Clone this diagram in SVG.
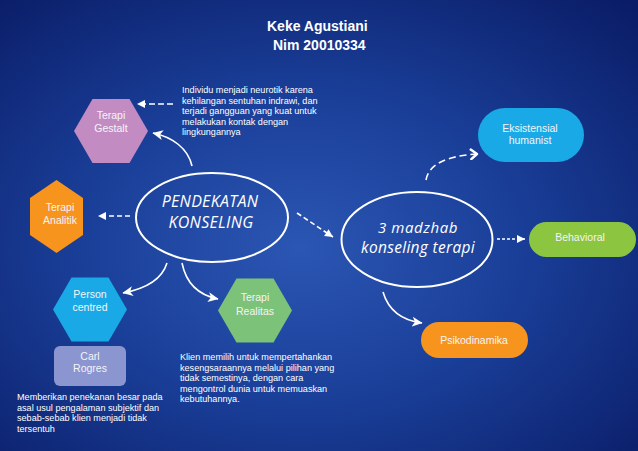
<svg xmlns="http://www.w3.org/2000/svg" width="638" height="451" viewBox="0 0 638 451">
<defs>
<radialGradient id="bg" cx="0.47" cy="0.55" r="0.75">
<stop offset="0" stop-color="#2b56b3"/>
<stop offset="0.45" stop-color="#1a3f99"/>
<stop offset="1" stop-color="#0a1c66"/>
</radialGradient>
<marker id="tri" markerUnits="userSpaceOnUse" markerWidth="10" markerHeight="10" viewBox="0 0 10 10" refX="9" refY="5" orient="auto">
<path d="M1,1 L9,5 L1,9 Z" fill="#fff"/>
</marker>
<marker id="stealth" markerUnits="userSpaceOnUse" markerWidth="11" markerHeight="11" viewBox="0 0 10 10" refX="9" refY="5" orient="auto">
<path d="M0,0.5 L9.5,5 L0,9.5 L2.5,5 Z" fill="#fff"/>
</marker>
<marker id="chev" markerUnits="userSpaceOnUse" markerWidth="12" markerHeight="12" viewBox="0 0 10 10" refX="8" refY="5" orient="auto">
<path d="M3,1 L8,5 L3,9" fill="none" stroke="#fff" stroke-width="2" stroke-linecap="round" stroke-linejoin="round"/>
</marker>
</defs>
<style>
.lbl{font-family:"Liberation Sans",Arial,sans-serif;font-size:10.5px;fill:#f4f4f8;text-anchor:middle}
.desc{font-family:"Liberation Sans",Arial,sans-serif;font-size:9.1px;fill:#ffffff}
.hand{font-family:"Open Sans","DejaVu Sans",sans-serif;font-style:italic;font-weight:400;fill:#ffffff;text-anchor:middle}
.title{font-family:"Liberation Sans",Arial,sans-serif;font-size:14px;font-weight:bold;fill:#ffffff}
.conn{fill:none;stroke:#fff;stroke-width:1.6}
.ring{fill:none;stroke:#fff;stroke-width:2}
</style>
<rect width="638" height="451" fill="url(#bg)"/>

<g id="title">
<text class="title" x="267" y="31">Keke Agustiani</text>
<text class="title" x="273" y="50">Nim 20010334</text>
</g>

<g id="connectors">
<path class="conn" d="M173,104 L137,104" stroke-dasharray="6,3" marker-end="url(#tri)"/>
<path class="conn" d="M130,216 L98,216" stroke-dasharray="5,3" marker-end="url(#tri)"/>
<path class="conn" d="M192,166 C188,148 172,137 153,133" marker-end="url(#stealth)"/>
<path class="conn" d="M167,263 Q160,286 123,293" marker-end="url(#stealth)"/>
<path class="conn" d="M182,263 Q188,293 218,299" marker-end="url(#stealth)"/>
<path class="conn" d="M297,213 L333,237" stroke-dasharray="5,3" marker-end="url(#tri)"/>
<path class="conn" d="M426,180 Q430,157 477,154" stroke-width="2.3" stroke-dasharray="7,4" marker-end="url(#chev)"/>
<path class="conn" d="M497,239 L525,239" stroke-width="1.4" stroke-dasharray="3,2" marker-end="url(#tri)"/>
<path class="conn" d="M383,292 Q391,319 422,323" marker-end="url(#stealth)"/>
</g>

<g id="pendekatan">
<ellipse class="ring" cx="212" cy="217.5" rx="76" ry="44.5"/>
<text class="hand" x="210" y="207" font-size="16" letter-spacing="0.3">PENDEKATAN</text>
<text class="hand" x="211" y="228" font-size="16" letter-spacing="0.3">KONSELING</text>
</g>

<g id="madzhab">
<ellipse class="ring" cx="417" cy="239.5" rx="75.5" ry="47.5"/>
<text class="hand" x="418" y="233" font-size="15" letter-spacing="0.6">3 madzhab</text>
<text class="hand" x="418" y="253" font-size="15.5" letter-spacing="0.3">konseling terapi</text>
</g>

<g id="gestalt">
<polygon points="74,131 92.5,99 129.5,99 148,131 129.5,163 92.5,163" fill="#c28cc3"/>
<text class="lbl" x="111" y="119">Terapi</text>
<text class="lbl" x="111" y="132">Gestalt</text>
</g>

<g id="gestalt-desc">
<text class="desc" x="182" y="93">Individu menjadi neurotik karena</text>
<text class="desc" x="182" y="103.6">kehilangan sentuhan indrawi, dan</text>
<text class="desc" x="182" y="114.2">terjadi gangguan yang kuat untuk</text>
<text class="desc" x="182" y="124.8">melakukan kontak dengan</text>
<text class="desc" x="182" y="135.4">lingkungannya</text>
</g>

<g id="analitik">
<polygon points="56.5,180 83,198 83,235 56.5,253 30,235 30,198" fill="#f7941d"/>
<text class="lbl" x="60" y="211">Terapi</text>
<text class="lbl" x="60" y="224">Analitik</text>
</g>

<g id="person">
<polygon points="53,309.5 71.5,277.5 108.5,277.5 127,309.5 108.5,341.5 71.5,341.5" fill="#19a9e6"/>
<text class="lbl" x="90" y="298">Person</text>
<text class="lbl" x="90" y="311">centred</text>
</g>

<g id="carl">
<rect x="54" y="346" width="72" height="40" rx="6" fill="#8b95cf"/>
<text class="lbl" x="90" y="360" font-size="9.5">Carl</text>
<text class="lbl" x="90" y="372" font-size="9.5">Rogres</text>
</g>

<g id="person-desc">
<text class="desc" x="17" y="400">Memberikan penekanan besar pada</text>
<text class="desc" x="17" y="410.5">asal usul pengalaman subjektif  dan</text>
<text class="desc" x="17" y="421">sebab-sebab klien menjadi tidak</text>
<text class="desc" x="17" y="431.5">tersentuh</text>
</g>

<g id="realitas">
<polygon points="218,310.5 236.5,278.5 273.5,278.5 292,310.5 273.5,342.5 236.5,342.5" fill="#7cc278"/>
<text class="lbl" x="255" y="301">Terapi</text>
<text class="lbl" x="255" y="315">Realitas</text>
</g>

<g id="realitas-desc">
<text class="desc" x="180" y="360" font-size="8.6">Klien memilih untuk mempertahankan</text>
<text class="desc" x="180" y="370.5" font-size="8.6">kesengsaraannya melalui pilihan yang</text>
<text class="desc" x="180" y="381" font-size="8.6">tidak semestinya, dengan cara</text>
<text class="desc" x="180" y="391.5" font-size="8.6">mengontrol dunia untuk memuaskan</text>
<text class="desc" x="180" y="402" font-size="8.6">kebutuhannya.</text>
</g>

<g id="eksistensial">
<rect x="478" y="108" width="106" height="54" rx="27" fill="#19a9e6"/>
<text class="lbl" x="530" y="131.5">Eksistensial</text>
<text class="lbl" x="530" y="144">humanist</text>
</g>

<g id="behavioral">
<rect x="529" y="222" width="107" height="35" rx="17.5" fill="#8cc53f"/>
<text class="lbl" x="580" y="240.5">Behavioral</text>
</g>

<g id="psikodinamika">
<rect x="421" y="322" width="107" height="36" rx="18" fill="#f7941d"/>
<text class="lbl" x="474" y="343.5">Psikodinamika</text>
</g>
</svg>
